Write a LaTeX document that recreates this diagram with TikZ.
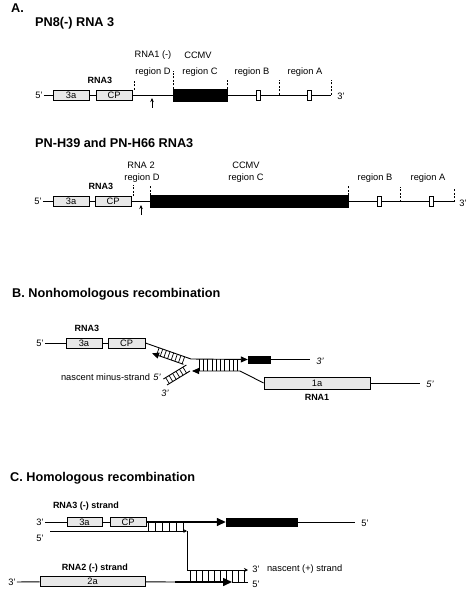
\documentclass[tikz,border=0pt]{standalone}
\usepackage{fontspec}
\setmainfont{Liberation Sans}
\usetikzlibrary{positioning,arrows.meta,calc}
\newcommand{\lblfont}{\fontsize{9.3}{10}\selectfont}
\newcommand{\ttlfont}{\fontsize{12.7}{14}\selectfont\bfseries}
\tikzset{
  gene/.style    ={draw, rectangle, fill=gray!18, inner sep=0pt, minimum height=10, minimum width=36, line width=0.8pt, font=\lblfont},
  solidbox/.style={draw, rectangle, fill=black, inner sep=0pt, minimum height=12},
  site/.style    ={draw, rectangle, fill=white, inner sep=0pt, minimum height=10, minimum width=3.5, line width=0.8pt},
  lbl/.style     ={inner sep=1pt, font=\lblfont},
  bold/.style    ={inner sep=1pt, font=\fontsize{9}{10}\selectfont\bfseries},
  ttl/.style     ={inner sep=0pt, anchor=west, font=\ttlfont},
  strand/.style  ={line width=0.9pt},
  thinline/.style={line width=0.6pt},
  tick/.style    ={dash pattern=on 2pt off 1.5pt, line width=0.5pt},
  cut/.style     ={-{Stealth[length=4pt,width=3.5pt]}, line width=0.8pt},
  fwd/.style     ={-{Triangle[length=7pt,width=6pt]}, line width=0.9pt},
  bigfwd/.style  ={-{Triangle[length=9pt,width=8pt]}, line width=1.5pt},
  rung/.style    ={line width=0.7pt},
}

\begin{document}
\begin{tikzpicture}[x=1pt, y=-1pt]
  \useasboundingbox (0,0) rectangle (474,591);

  % A. PN8(-) RNA 3
  \node[ttl] (hA) at (11,8) {A.};
  \node[ttl] (h1) at (35,23) {PN8(-) RNA 3};
  \node[lbl] (a5) at (39,95) {5'};
  \node[gene] (a3a) at (71,95) {3a};
  \node[gene] (acp) at (114,95) {CP};
  \node[solidbox, minimum width=54] (ac) at (200,95) {};
  \node[site] (ab) at (258.5,95) {};
  \node[site] (aa) at (309.5,95) {};
  \coordinate (aend) at (331,95);
  \node[lbl] (a3) at (341,96) {3'};
  \draw[strand] (a5) -- (a3a) -- (acp) -- (ac) -- (ab) -- (aa) -- (aend);
  \draw[tick] ([xshift=2pt]acp.north east) -- ++(0,-10);
  \draw[tick] (ac.north west) -- ++(0,-18);
  \draw[tick] (ac.north east) -- ++(0,-9);
  \draw[tick] (279,95) -- ++(0,-15);
  \draw[tick] (aend) -- ++(0,-15);
  \node[bold] (ar3) at (100,80) {RNA3};
  \node[lbl] (aD) at (153,72) {region D};
  \node[lbl] (aD1) at (153,55) {RNA1 (-)};
  \node[lbl] (aC) at (200,72) {region C};
  \node[lbl] (aC1) at (198,55) {CCMV};
  \node[lbl] (aB) at (252,72) {region B};
  \node[lbl] (aA) at (305,72) {region A};
  \coordinate (acut) at (152,108);
  \draw[cut] (acut) -- ++(0,-10);

  % PN-H39 / PN-H66
  \node[ttl] (h2) at (35,143) {PN-H39 and PN-H66 RNA3};
  \node[lbl] (b5) at (38,201.5) {5'};
  \node[gene] (b3a) at (71,201.5) {3a};
  \node[gene] (bcp) at (113,201.5) {CP};
  \node[solidbox, minimum width=198] (bc) at (249,201.5) {};
  \node[site] (bb) at (379.5,201.5) {};
  \node[site] (ba) at (431.5,201.5) {};
  \coordinate (bend) at (454,201.5);
  \node[lbl] (b3) at (463,203) {3'};
  \draw[strand] (b5) -- (b3a) -- (bcp) -- (bc) -- (bb) -- (ba) -- (bend);
  \draw[tick] ([xshift=2pt]bcp.north east) -- ++(0,-11);
  \draw[tick] (bc.north west) -- ++(0,-10);
  \draw[tick] (bc.north east) -- ++(0,-10);
  \draw[tick] (400,201.5) -- ++(0,-15);
  \draw[tick] (bend) -- ++(0,-14);
  \node[bold] (br3) at (101,186) {RNA3};
  \node[lbl] (bD) at (142,178) {region D};
  \node[lbl] (bD1) at (141,165) {RNA 2};
  \node[lbl] (bC) at (246,178) {region C};
  \node[lbl] (bC1) at (246,165) {CCMV};
  \node[lbl] (bB) at (375,178) {region B};
  \node[lbl] (bA) at (428,178) {region A};
  \coordinate (bcut) at (141,215);
  \draw[cut] (bcut) -- ++(0,-10);

  % B. nonhomologous
  \node[ttl] (h3) at (12,294) {B. Nonhomologous recombination};
  \node[bold] (cr3) at (87,328) {RNA3};
  \node[lbl] (c5) at (40,343) {5'};
  \node[gene] (c3a) at (84,343) {3a};
  \node[gene, minimum width=37] (ccp) at (126.5,343) {CP};
  \coordinate (cj) at (191,359);
  \node[solidbox, minimum width=22, minimum height=7] (cblk) at (259,359.5) {};
  \coordinate (cend) at (310,359.5);
  \node[lbl] (c3) at (320,361) {\itshape 3'};
  \draw[strand] (c5) -- (c3a) -- (ccp);
  \draw[fwd] (ccp.east) -- (cj) -- (cblk.west);
  \draw[strand] (cblk) -- (cend);
  \node[gene, minimum width=106, minimum height=12] (c1a) at (317,383) {1a};
  \coordinate (cb) at (240,371);
  \coordinate (cbtip) at (192,371);
  \coordinate (c1end) at (420,383);
  \node[lbl] (c15) at (430,384) {\itshape 5'};
  \node[bold] (cr1) at (317,397) {RNA1};
  \draw[fwd] (c1a.west) -- (cb) -- (cbtip);
  \draw[strand] (c1a) -- (c1end);
  \foreach \i in {0,...,9}
    \draw[rung] ($(cj)+(8+4.3*\i,0)$) -- ++(0,12);
  % ladder on RNA3
  \draw[fwd] ($(ccp.east)!0.89!(cj)!7.5pt!-90:(cj)$) -- ($(ccp.east)!0.2!(cj)!7.5pt!-90:(cj)$);
  \foreach \i [evaluate=\i as \t using 0.3+0.08*\i] in {0,...,7}
    \draw[rung] ($(ccp.east)!\t!(cj)$) -- ($(ccp.east)!\t!(cj)!7.5pt!-90:(cj)$);
  % nascent minus-strand
  \coordinate (n1) at (190,371);
  \coordinate (n2) at (167,385);
  \draw[strand] (n1) -- (n2);
  \draw[strand] ($(n1)!7pt!-90:(n2)$) -- ($(n2)!7pt!90:(n1)$);
  \foreach \i [evaluate=\i as \t using 0.15+0.15*\i] in {0,...,5}
    \draw[rung] ($(n1)!\t!(n2)$) -- ($(n1)!\t!(n2)!7pt!-90:(n2)$);
  \node[lbl] (n5) at (157,377) {\itshape 5'};
  \node[lbl] (n3) at (165,393) {\itshape 3'};
  \node[lbl, left=1pt of n5] (nlab) {nascent minus-strand};

  % C. homologous
  \node[ttl] (h4) at (10,478) {C. Homologous recombination};
  \node[bold] (dr3) at (86,506) {RNA3 (-) strand};
  \node[lbl] (d3) at (40,522) {3'};
  \node[gene, minimum width=35, minimum height=9] (d3a) at (84.5,522) {3a};
  \node[gene, minimum width=36, minimum height=9] (dcp) at (128,522) {CP};
  \node[solidbox, minimum width=71, minimum height=8] (dblk) at (261.5,522) {};
  \coordinate (dend) at (355,522);
  \node[lbl] (d5) at (365,523) {5'};
  \draw[strand] (d3) -- (d3a) -- (dcp);
  \draw[bigfwd] (dcp) -- (dblk);
  \draw[thinline] (dblk) -- (dend);
  \coordinate (e0) at (50,531);
  \coordinate (ek) at (187,531);
  \coordinate (en) at (248,570);
  \node[lbl] (e5) at (40,538) {5'};
  \draw[thinline, -{Stealth[length=3.5pt,width=3.5pt]}] (e0) -- (ek);
  \draw[thinline, -{Stealth[length=4pt,width=4pt]}] (ek) |- (en);
  \foreach \i in {0,...,5}
    \draw[rung, line width=0.5pt] ($(dcp.east)+(2+7*\i,0)$) -- ++(0,9);
  \node[lbl] (n3p) at (256,569) {3'};
  \node[lbl, right=5pt of n3p] (nplus) {nascent (+) strand};

  \node[bold] (dr2) at (95,568) {RNA2 (-) strand};
  \node[lbl] (f3) at (12,582) {3'};
  \node[gene, minimum width=105] (f2a) at (92.5,581.5) {2a};
  \coordinate (fk) at (175,582);
  \coordinate (ftip) at (232,582);
  \coordinate (fend) at (248,582);
  \node[lbl] (f5) at (256,584) {5'};
  \draw[strand] (f3) -- (f2a) -- (fk);
  \draw[bigfwd] (fk) -- (ftip);
  \draw[strand] (ftip) -- (fend);
  \foreach \i in {0,...,9}
    \draw[rung, line width=0.5pt] ($(ek|-en)+(3+6*\i,0)$) -- ++(0,12);
\end{tikzpicture}
\end{document}
